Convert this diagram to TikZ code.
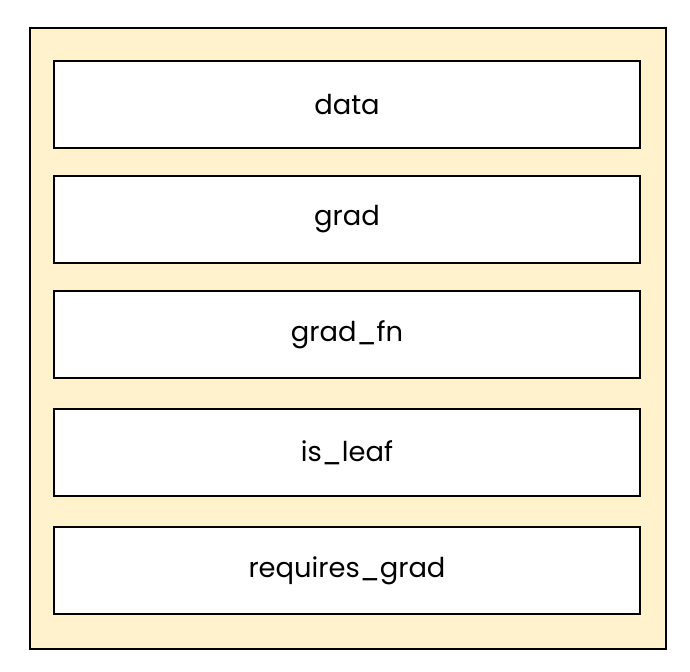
\documentclass[tikz,border=0pt]{standalone}
\usepackage{fontspec}
\setmainfont{Poppins}
\definecolor{outerfill}{HTML}{FFF2CC}
\begin{document}
\begin{tikzpicture}[x=0.75pt,y=-0.75pt,
  field/.style={draw=black,line width=1.5pt,fill=white,minimum width=586*0.75pt,minimum height=87*0.75pt,inner sep=0pt,font=\fontsize{20.5}{24}\selectfont,anchor=north west}]
\useasboundingbox (0,0) rectangle (690,672);
\node[draw=black,line width=1.5pt,fill=outerfill,minimum width=636*0.75pt,minimum height=621*0.75pt,anchor=north west,inner sep=0pt] (outer) at (29,27) {};
\node[field] (data) at (53,60) {data};
\node[field] (grad) at (53,175) {grad};
\node[field] (gradfn) at (53,290) {grad\_fn};
\node[field] (leaf) at (53,408) {is\_leaf};
\node[field] (req) at (53,526) {requires\_grad};
\end{tikzpicture}
\end{document}
